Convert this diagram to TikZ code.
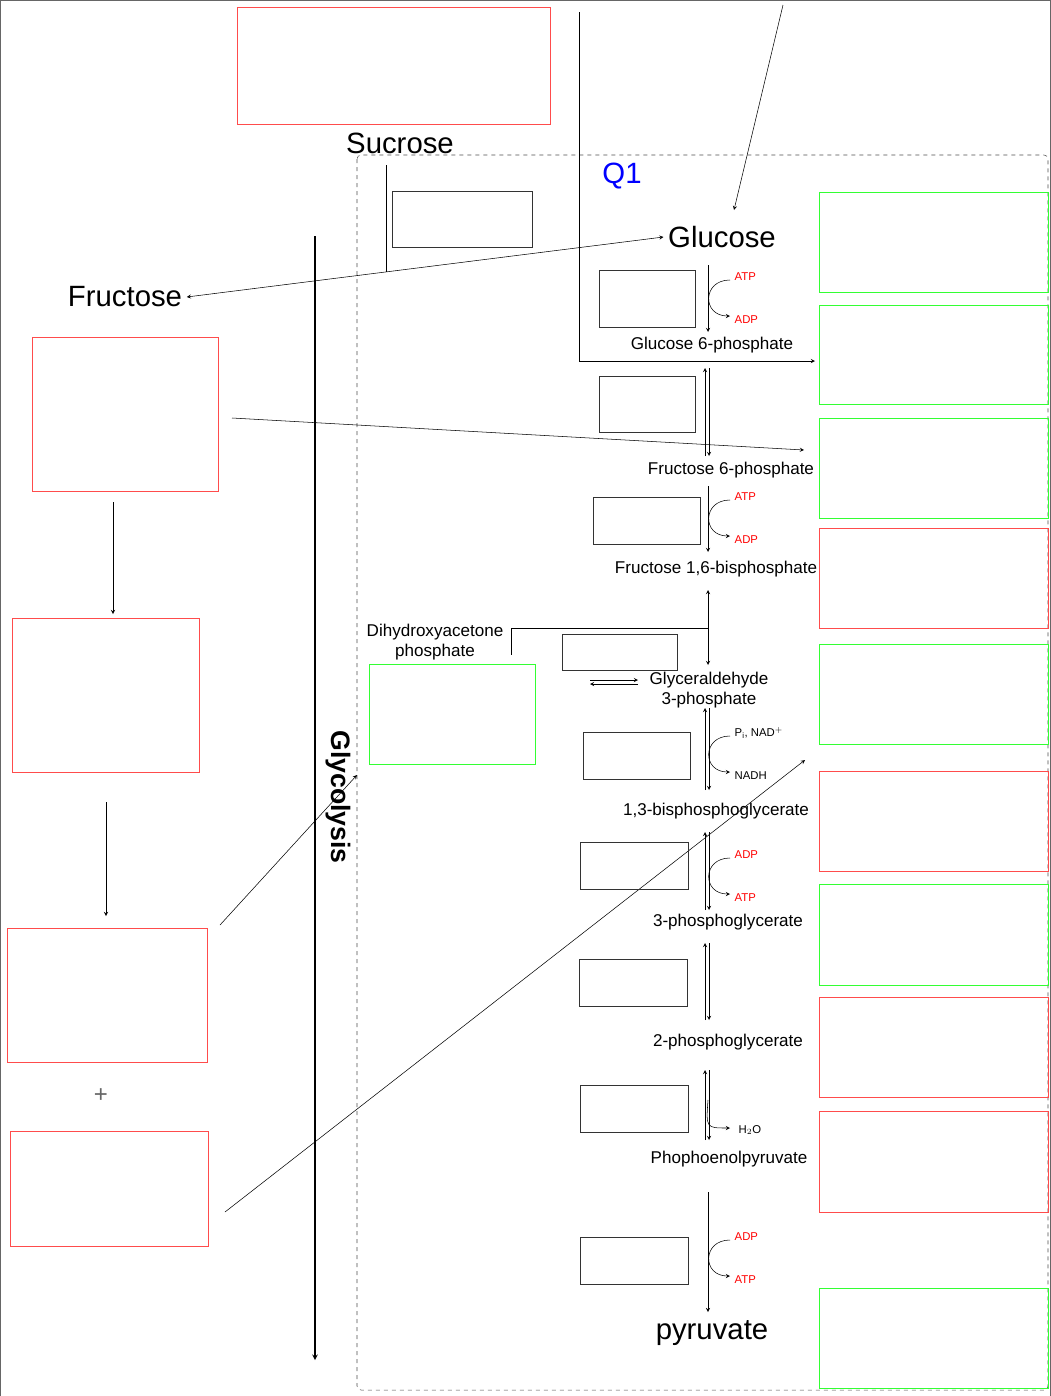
\documentclass[tikz,border=0pt]{standalone}
\usepackage{fontspec}
\setmainfont{Liberation Sans}
\usetikzlibrary{positioning, calc, arrows}
\tikzset{
	redbox/.style={draw=red!70, thin},
	greenbox/.style={draw=green!80, thin},
	plainbox/.style={draw=black!80, thin},
	big/.style={font=\fontsize{22}{24}\selectfont},
	met/.style={font=\fontsize{12.8}{14.5}\selectfont, align=center},
	cof/.style={font=\fontsize{8.5}{10}\selectfont},
	arr/.style={-stealth, thin},
}
\newcommand{\cofcurve}[4]{% x, y top, top label, bottom label
	\draw[-stealth, thin] (#1+22,#2) .. controls (#1-6,#2) and (#1-6,#2+36) .. (#1+22,#2+36);
	\node[cof, anchor=west] at (#1+22,#2-3) {#3};
	\node[cof, anchor=west] at (#1+22,#2+40) {#4};
}
\begin{document}
\begin{tikzpicture}[x=0.75pt, y=-0.75pt]
			\useasboundingbox (0,0) rectangle (1050,1396);
			\draw[black!60] (0,0) rectangle (1050,1396);
			
			% top and side boxes
			\draw[redbox] (237,7) rectangle (550,124);
			\draw[dashed, black!70, rounded corners=3pt] (357,155) rectangle (1048,1390);
			\node[big] (sucrose) at (400,143) {Sucrose};
			\node[big, text=blue] (q1) at (622,176) {Q1};
			\node[big] (glucose) at (722,237) {Glucose};
			\node[big] (fructose) at (125,297) {Fructose};
			\node[big] (pyruvate) at (712,1333) {pyruvate};
			
			\draw[plainbox] (392,191) rectangle (532,247);
			\draw[thin] (386,165) -- (386,272);
			\draw[arr] (579,12) -- (579,361) -- (815,361);
			\coordinate (topend) at (783,5);
			\coordinate (gtop) at (734,210);
			\draw[arr] (topend) -- (gtop);
			\draw[stealth-stealth, thin] (fructose.east) -- (glucose.west);
			
			\draw[-stealth, thick] (315,236) -- (315,1360);
			\node[rotate=-90, font=\bfseries\fontsize{20}{22}\selectfont] (glyc) at (338,797) {Glycolysis};
			
			% left column
			\draw[redbox] (32,337) rectangle (218,491);
			\draw[redbox] (12,618) rectangle (199,772);
			\draw[redbox] (7,928) rectangle (207,1062);
			\draw[redbox] (10,1131) rectangle (208,1246);
			\draw[arr] (113,502) -- (113,614);
			\draw[arr] (106,802) -- (106,916);
			\node[text=black!60, font=\fontsize{18}{20}\selectfont] (plus) at (101,1096) {+};
			\draw[arr] (232,418) -- (804,450);
			\draw[arr] (220,925) -- (357,775);
			\draw[arr] (225,1212) -- (805,760);
			\draw[greenbox] (369,664) rectangle (535,764);
			
			% right column
			\foreach \t/\b in {192/292, 305/404, 418/518, 644/744, 884/985, 1288/1388}
				\draw[greenbox] (819,\t) rectangle (1048,\b);
			\foreach \t/\b in {528/628, 771/871, 997/1097, 1111/1212}
				\draw[redbox] (819,\t) rectangle (1048,\b);
			
			% metabolites
			\node[met] (g6p) at (712,345) {Glucose 6-phosphate};
			\node[met] (f6p) at (731,470) {Fructose 6-phosphate};
			\node[met] (fbp) at (716,569) {Fructose 1,6-bisphosphate};
			\node[met] (dhap) at (435,642) {Dihydroxyacetone\\phosphate};
			\node[met] (g3p) at (709,690) {Glyceraldehyde\\3-phosphate};
			\node[met] (bpg) at (716,811) {1,3-bisphosphoglycerate};
			\node[met] (pg3) at (728,922) {3-phosphoglycerate};
			\node[met] (pg2) at (728,1042) {2-phosphoglycerate};
			\node[met] (pep) at (729,1159) {Phophoenolpyruvate};
			
			% enzyme boxes
			\draw[plainbox] (599,270) rectangle (695,327);
			\draw[plainbox] (599,376) rectangle (695,432);
			\draw[plainbox] (593,497) rectangle (700,544);
			\draw[plainbox] (562,634) rectangle (677,670);
			\draw[plainbox] (583,732) rectangle (690,779);
			\draw[plainbox] (580,842) rectangle (688,889);
			\draw[plainbox] (579,959) rectangle (687,1006);
			\draw[plainbox] (580,1085) rectangle (688,1132);
			\draw[plainbox] (580,1237) rectangle (688,1284);
			
			% steps
			\draw[arr] (708,265) -- (708,332);
			\cofcurve{708}{280}{\textcolor{red}{ATP}}{\textcolor{red}{ADP}}
			\draw[arr] (705,456) -- (705,368);
			\draw[arr] (709,368) -- (709,456);
			\draw[arr] (708,486) -- (708,552);
			\cofcurve{708}{500}{\textcolor{red}{ATP}}{\textcolor{red}{ADP}}
			\draw[stealth-stealth, thin] (708,590) -- (708,665);
			\draw[thin] (708,628) -| (511,655);
			\draw[arr] (590,680) -- (638,680);
			\draw[arr] (638,684) -- (590,684);
			\draw[arr] (705,790) -- (705,708);
			\draw[arr] (709,708) -- (709,790);
			\cofcurve{708}{736}{P$_\mathrm{i}$, NAD$^+$}{NADH}
			\draw[arr] (705,910) -- (705,832);
			\draw[arr] (709,832) -- (709,910);
			\cofcurve{708}{858}{\textcolor{red}{ADP}}{\textcolor{red}{ATP}}
			\draw[arr] (705,1020) -- (705,943);
			\draw[arr] (709,943) -- (709,1020);
			\draw[arr] (705,1140) -- (705,1070);
			\draw[arr] (709,1070) -- (709,1140);
			\draw[-stealth, thin] (708,1100) .. controls (706,1128) .. (730,1128);
			\node[cof, anchor=west] (h2o) at (734,1130) {H$_2$O};
			\draw[arr] (708,1192) -- (708,1312);
			\cofcurve{708}{1240}{\textcolor{red}{ADP}}{\textcolor{red}{ATP}}
\end{tikzpicture}
\end{document}
